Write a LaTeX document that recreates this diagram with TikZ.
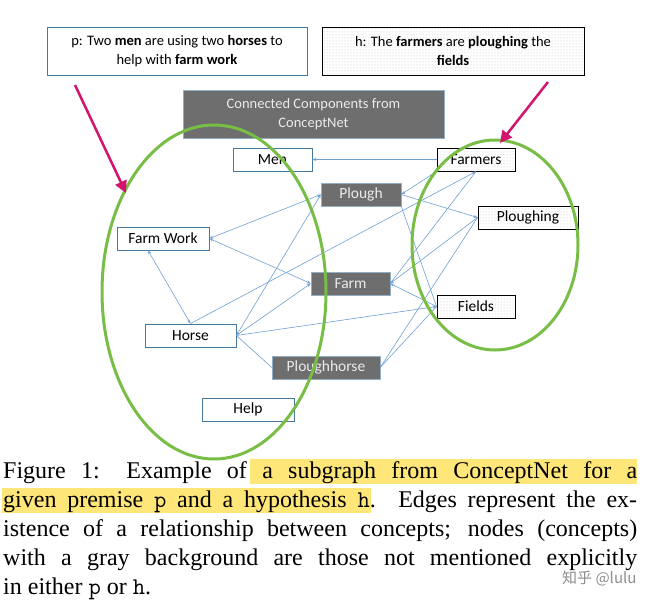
\documentclass[tikz,border=0pt]{standalone}
\usepackage{fontspec}
\setmainfont{Liberation Serif}
\newfontfamily\carl{Carlito}
\newfontfamily\cjkf{Noto Sans CJK SC}
\usetikzlibrary{arrows.meta,patterns}
\definecolor{edge}{RGB}{110,160,210}
\definecolor{gbox}{RGB}{110,110,110}
\definecolor{bbord}{RGB}{70,120,160}
\definecolor{ell}{RGB}{120,190,70}
\definecolor{mag}{RGB}{210,20,110}
\definecolor{hl}{RGB}{255,230,120}
\begin{document}
\begin{tikzpicture}[x=1pt,y=-1pt,
 wbox/.style={draw=bbord,fill=white,line width=0.8pt,inner sep=0pt,font=\carl\fontsize{15.5}{18}\selectfont},
 dbox/.style={draw=black,line width=0.9pt,pattern=dots,pattern color=black!25,inner sep=0pt,font=\carl\fontsize{15.5}{18}\selectfont},
 gbx/.style={draw=bbord!60,fill=gbox,text=white!92!black,inner sep=0pt,font=\carl\fontsize{15.5}{18}\selectfont},
 e/.style={draw=edge,line width=0.6pt},
 ar/.style={-{Stealth[length=4pt,width=3pt]}},
 ba/.style={{Stealth[length=4pt,width=3pt]}-{Stealth[length=4pt,width=3pt]}},
 mg/.style={draw=mag,line width=2.5pt,-{Triangle[length=12pt,width=12pt]}}]
\useasboundingbox (0,0) rectangle (651,605);
% top boxes
\node[wbox,minimum width=260pt,minimum height=48pt,align=center,font=\carl\fontsize{14.5}{19}\selectfont] (p) at (177,51) {p: Two \textbf{men} are using two \textbf{horses} to\\help with \textbf{farm work}};
\node[dbox,minimum width=262pt,minimum height=48pt,align=center,font=\carl\fontsize{14.5}{19}\selectfont] (h) at (453,51) {h: The \textbf{farmers} are \textbf{ploughing} the\\\textbf{fields}};
\node[gbx,minimum width=261pt,minimum height=48pt,align=center,font=\carl\fontsize{14.5}{19}\selectfont] (cc) at (313.5,114) {Connected Components from\\ConceptNet};
% nodes
\node[wbox,minimum width=79pt,minimum height=23pt] (men) at (272.5,159.5) {Men};
\node[dbox,minimum width=78pt,minimum height=23pt] (farmers) at (476,159.5) {Farmers};
\node[gbx,minimum width=80pt,minimum height=23pt] (plough) at (361,194.5) {Plough};
\node[dbox,minimum width=100pt,minimum height=23pt] (ploughing) at (528,217.5) {Ploughing};
\node[wbox,minimum width=92pt,minimum height=23pt] (fw) at (163,238.5) {Farm Work};
\node[gbx,minimum width=79pt,minimum height=23pt] (farm) at (350.5,283.5) {Farm};
\node[dbox,minimum width=78pt,minimum height=23pt] (fields) at (476,306.5) {Fields};
\node[wbox,minimum width=91pt,minimum height=23pt] (horse) at (190.5,335.5) {Horse};
\node[gbx,minimum width=108pt,minimum height=23pt] (ph) at (326,367.5) {Ploughhorse};
\node[wbox,minimum width=92pt,minimum height=23pt] (help) at (248,409.5) {Help};
% edges
\draw[e,ar] (farmers) -- (men);
\draw[e,ar] (farmers.south west) -- (plough.east);
\draw[e,ar] (horse.north) -- (farmers.south);
\draw[e,ar] (plough.east) -- (ploughing.west);
\draw[e] (plough.south east) -- (fields.west);
\draw[e,ba] (plough.west) -- (fw.east);
\draw[e,ba] (plough.west) -- (horse.east);
\draw[e,ba] (fw.east) -- (farm.west);
\path (fw.south) ++(-15,0) coordinate (fws);
\draw[e,ba] (fws) -- (horse.north);
\draw[e,ar] (horse.east) -- (farm.west);
\draw[e,ar] (ploughing.west) -- (farm.east);
\draw[e,ar] (fields.west) -- (farm.east);
\draw[e] (farmers.south) -- (farm.east);
\draw[e,ar] (horse.east) -- (fields.west);
\draw[e] (horse.east) -- (ph.west);
\draw[e] (ph.east) -- (ploughing.west);
\draw[e] (ph.east) -- (fields.west);
% ellipses
\draw[ell,line width=3pt] (214,292) ellipse [x radius=112pt,y radius=167pt];
\draw[ell,line width=3pt] (495,245) ellipse [x radius=83pt,y radius=105pt];
% magenta arrows
\coordinate (m1) at (75,85); \coordinate (m1e) at (126,193);
\coordinate (m2) at (548,82); \coordinate (m2e) at (500,143);
\draw[mg] (m1) -- (m1e);
\draw[mg] (m2) -- (m2e);
% caption
\fill[hl] (250,459) rectangle (637,484);
\fill[hl] (2,488) rectangle (371,513);
\begin{scope}[every node/.style={anchor=base west,inner sep=0pt,font=\fontsize{24}{28}\selectfont}]
\node (c1) at (3,478) {\makebox[634pt][s]{Figure 1: Example of a subgraph from ConceptNet for a}};
\node (c2) at (3,507) {\makebox[634pt][s]{given premise \texttt{p} and a hypothesis \texttt{h}. Edges represent the ex-}};
\node (c3) at (3,536) {\makebox[634pt][s]{istence of a relationship between concepts; nodes (concepts)}};
\node (c4) at (3,565) {\makebox[634pt][s]{with a gray background are those not mentioned explicitly}};
\node (c5) at (3,594) {in either \texttt{p} or \texttt{h}.};
\end{scope}
\node[text=black!45,font=\cjkf\fontsize{15}{17}\selectfont,anchor=base east] (wm) at (640,583) {知乎 @lulu};
\end{tikzpicture}
\end{document}
